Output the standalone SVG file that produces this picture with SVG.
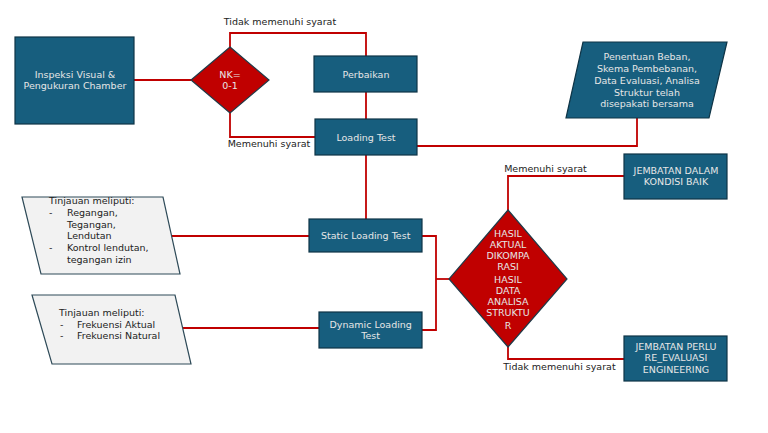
<svg xmlns="http://www.w3.org/2000/svg" width="768" height="433" viewBox="0 0 768 433">
<style>
.box{fill:#175e7e;stroke:#0e3446;stroke-width:1.2}
.dia{fill:#c00000;stroke:#1e3a48;stroke-width:1.2}
.note{fill:#f2f2f2;stroke:#2e4a58;stroke-width:1.2}
.wt{font-family:"DejaVu Sans",sans-serif;font-size:9.5px;fill:#e6e6e6;text-anchor:middle;dominant-baseline:central}
.dt{font-family:"DejaVu Sans",sans-serif;font-size:9.5px;fill:#222;dominant-baseline:central}
.lbl{font-family:"DejaVu Sans",sans-serif;font-size:9.5px;fill:#222;text-anchor:middle;dominant-baseline:central}
.con{fill:none;stroke:#c00000;stroke-width:1.8}
</style>
<rect width="768" height="433" fill="#fff"/>
<g id="connectors">
<path class="con" d="M134,80 H191"/>
<path class="con" d="M230,47 V33 H366 V56"/>
<path class="con" d="M366,92 V119"/>
<path class="con" d="M230,113 V137 H315"/>
<path class="con" d="M417,146 H637 V118"/>
<path class="con" d="M366,155 V219"/>
<path class="con" d="M171.6,236 H309"/>
<path class="con" d="M182.7,328 H319"/>
<path class="con" d="M422,236 H436 V330 H422"/>
<path class="con" d="M436,279 H449"/>
<path class="con" d="M508,210 V176 H624"/>
<path class="con" d="M508,347 V359 H624"/>
<text class="lbl" x="280" y="21.5">Tidak memenuhi syarat</text>
<text class="lbl" x="269" y="143">Memenuhi syarat</text>
<text class="lbl" x="545.5" y="168">Memenuhi syarat</text>
<text class="lbl" x="559.5" y="366.5">Tidak memenuhi syarat</text>
</g>
<g id="inspeksi">
<rect class="box" x="15" y="37" width="119" height="87"/>
<text class="wt" x="75" y="74">Inspeksi Visual &amp;</text>
<text class="wt" x="75" y="85.7">Pengukuran Chamber</text>
</g>
<g id="nk">
<polygon class="dia" points="230,47 269,80 230,113 191,80"/>
<text class="wt" x="230" y="74.3">NK=</text>
<text class="wt" x="230" y="85.5">0-1</text>
</g>
<g id="perbaikan">
<rect class="box" x="314" y="56" width="103" height="36"/>
<text class="wt" x="366" y="74">Perbaikan</text>
</g>
<g id="loading">
<rect class="box" x="315" y="119" width="102" height="36"/>
<text class="wt" x="366" y="137">Loading Test</text>
</g>
<g id="penentuan">
<polygon class="box" points="583,42 727,42 709,118 566,118"/>
<text class="wt" x="647" y="56.7">Penentuan Beban,</text>
<text class="wt" x="647" y="68.5">Skema Pembebanan,</text>
<text class="wt" x="647" y="80.3">Data Evaluasi, Analisa</text>
<text class="wt" x="647" y="92">Struktur telah</text>
<text class="wt" x="647" y="103">disepakati bersama</text>
</g>
<g id="baik">
<rect class="box" x="624" y="154" width="103" height="45"/>
<text class="wt" x="676" y="170">JEMBATAN DALAM</text>
<text class="wt" x="676" y="181.7">KONDISI BAIK</text>
</g>
<g id="static">
<rect class="box" x="309" y="219" width="113" height="33"/>
<text class="wt" x="365.7" y="235.7">Static Loading Test</text>
</g>
<g id="dynamic">
<rect class="box" x="319" y="312" width="103" height="36"/>
<text class="wt" x="370.7" y="324.3">Dynamic Loading</text>
<text class="wt" x="370.7" y="335.7">Test</text>
</g>
<g id="tinjauan1">
<polygon class="note" points="22,197 163,197 180,274 41,274"/>
<text class="dt" x="49" y="200.7">Tinjauan meliputi:</text>
<text class="dt" x="49" y="212.5">-</text>
<text class="dt" x="67" y="212.5">Regangan,</text>
<text class="dt" x="67" y="224">Tegangan,</text>
<text class="dt" x="67" y="235.3">Lendutan</text>
<text class="dt" x="49" y="247.5">-</text>
<text class="dt" x="67" y="247.5">Kontrol lendutan,</text>
<text class="dt" x="67" y="259">tegangan izin</text>
</g>
<g id="tinjauan2">
<polygon class="note" points="32,295 175,295 191,364 52,364"/>
<text class="dt" x="59" y="312">Tinjauan meliputi:</text>
<text class="dt" x="60" y="324">-</text>
<text class="dt" x="77" y="324">Frekuensi Aktual</text>
<text class="dt" x="60" y="335.5">-</text>
<text class="dt" x="77" y="335.5">Frekuensi Natural</text>
</g>
<g id="hasil">
<polygon class="dia" points="508,210 567,279 508,347 449,279"/>
<text class="wt" x="508" y="233.3">HASIL</text>
<text class="wt" x="508" y="244.5">AKTUAL</text>
<text class="wt" x="508" y="255.5">DIKOMPA</text>
<text class="wt" x="508" y="266.7">RASI</text>
<text class="wt" x="508" y="279">HASIL</text>
<text class="wt" x="508" y="290">DATA</text>
<text class="wt" x="508" y="301">ANALISA</text>
<text class="wt" x="508" y="312.7">STRUKTU</text>
<text class="wt" x="508" y="325">R</text>
</g>
<g id="perlu">
<rect class="box" x="624" y="336" width="103" height="45"/>
<text class="wt" x="676" y="346.7">JEMBATAN PERLU</text>
<text class="wt" x="676" y="357.7">RE_EVALUASI</text>
<text class="wt" x="676" y="369">ENGINEERING</text>
</g>
</svg>
